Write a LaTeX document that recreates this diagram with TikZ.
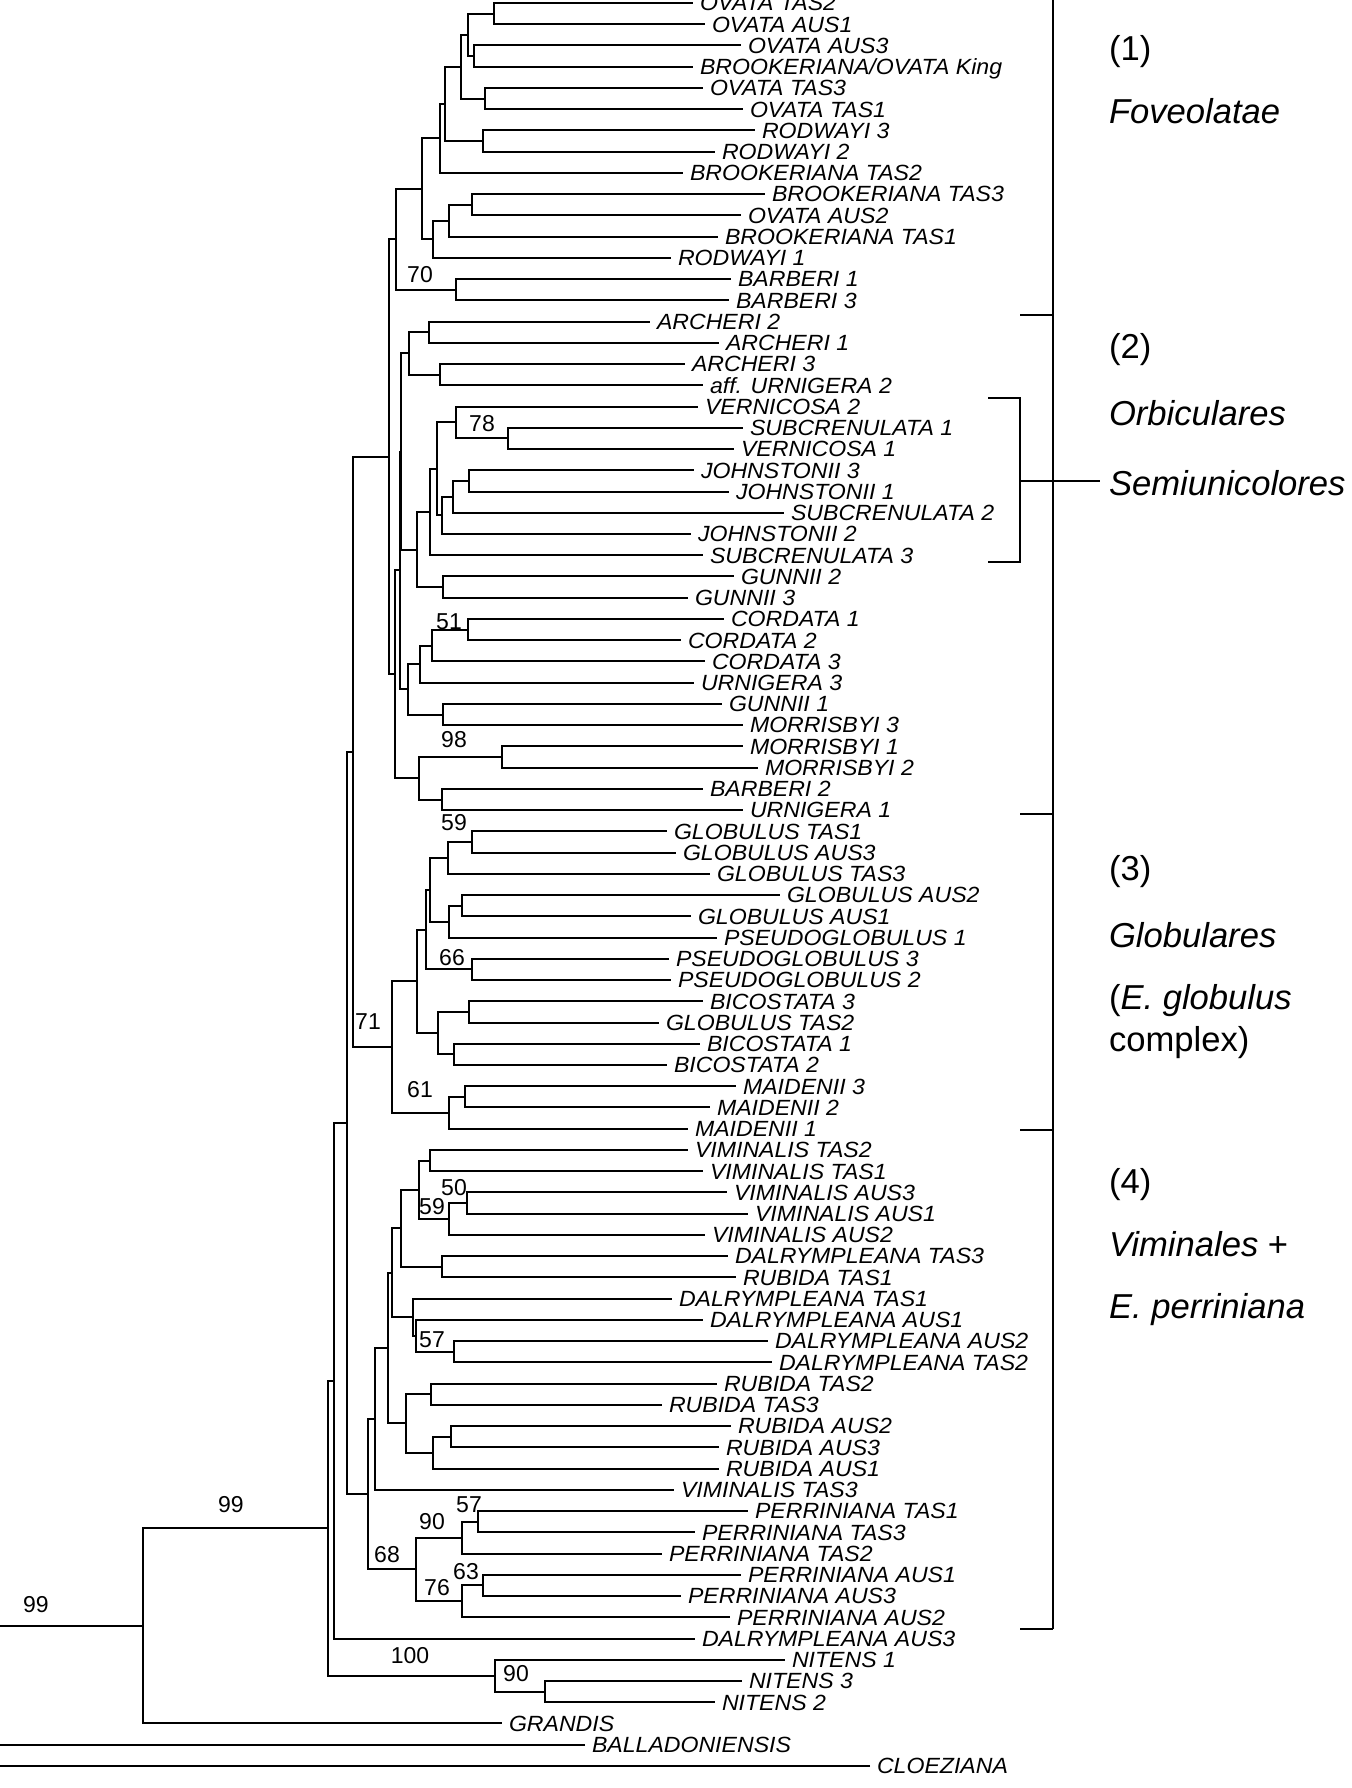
\documentclass[tikz,border=0pt]{standalone}
\usepackage{fontspec}
\setmainfont{Liberation Sans}
\newfontfamily\leaffont[FakeStretch=1.05]{Liberation Sans}
\usetikzlibrary{calc}

\begin{document}
\begin{tikzpicture}[x=0.5pt, y=-0.5pt, line width=1pt,
    leaflab/.style={anchor=west, inner xsep=3pt, inner ysep=0pt, text height=7.8pt, text depth=0pt,
      font=\leaffont\itshape\fontsize{11}{12}\selectfont},
    boot/.style={inner sep=0pt, font=\fontsize{11.5}{13}\selectfont},
    sect/.style={anchor=base west, inner xsep=4pt, inner ysep=0pt, font=\fontsize{17.3}{20}\selectfont}]
    \useasboundingbox (0,0) rectangle (1352,1788);

    % leaves: name / row / end of branch / label
    \foreach \nm/\row/\ex/\lab in {
        ovT2/0/693/OVATA TAS2, ovA1/1/705/OVATA AUS1, ovA3/2/741/OVATA AUS3,
        brOvK/3/693/{BROOKERIANA/OVATA King}, ovT3/4/703/OVATA TAS3, ovT1/5/743/OVATA TAS1,
        rod3/6/755/RODWAYI 3, rod2/7/715/RODWAYI 2, brT2/8/683/BROOKERIANA TAS2,
        brT3/9/765/BROOKERIANA TAS3, ovA2/10/741/OVATA AUS2, brT1/11/718/BROOKERIANA TAS1,
        rod1/12/671/RODWAYI 1, bar1/13/731/BARBERI 1, bar3/14/729/BARBERI 3,
        arc2/15/650/ARCHERI 2, arc1/16/719/ARCHERI 1, arc3/17/685/ARCHERI 3,
        affU2/18/703/aff. URNIGERA 2, ver2/19/698/VERNICOSA 2, sub1/20/743/SUBCRENULATA 1,
        ver1/21/734/VERNICOSA 1, joh3/22/694/JOHNSTONII 3, joh1/23/729/JOHNSTONII 1,
        sub2/24/784/SUBCRENULATA 2, joh2/25/691/JOHNSTONII 2, sub3/26/703/SUBCRENULATA 3,
        gun2/27/734/GUNNII 2, gun3/28/688/GUNNII 3, cor1/29/724/CORDATA 1,
        cor2/30/681/CORDATA 2, cor3/31/705/CORDATA 3, urn3/32/694/URNIGERA 3,
        gun1/33/722/GUNNII 1, mor3/34/743/MORRISBYI 3, mor1/35/743/MORRISBYI 1,
        mor2/36/758/MORRISBYI 2, bar2/37/703/BARBERI 2, urn1/38/743/URNIGERA 1,
        glT1/39/667/GLOBULUS TAS1, glA3/40/676/GLOBULUS AUS3, glT3/41/710/GLOBULUS TAS3,
        glA2/42/780/GLOBULUS AUS2, glA1/43/691/GLOBULUS AUS1, pse1/44/717/PSEUDOGLOBULUS 1,
        pse3/45/669/PSEUDOGLOBULUS 3, pse2/46/671/PSEUDOGLOBULUS 2, bic3/47/703/BICOSTATA 3,
        glT2/48/659/GLOBULUS TAS2, bic1/49/700/BICOSTATA 1, bic2/50/667/BICOSTATA 2,
        mai3/51/736/MAIDENII 3, mai2/52/710/MAIDENII 2, mai1/53/688/MAIDENII 1,
        viT2/54/688/VIMINALIS TAS2, viT1/55/703/VIMINALIS TAS1, viA3/56/727/VIMINALIS AUS3,
        viA1/57/748/VIMINALIS AUS1, viA2/58/705/VIMINALIS AUS2, daT3/59/728/DALRYMPLEANA TAS3,
        ruT1/60/736/RUBIDA TAS1, daT1/61/672/DALRYMPLEANA TAS1, daA1/62/703/DALRYMPLEANA AUS1,
        daA2/63/768/DALRYMPLEANA AUS2, daT2/64/772/DALRYMPLEANA TAS2, ruT2/65/717/RUBIDA TAS2,
        ruT3/66/662/RUBIDA TAS3, ruA2/67/731/RUBIDA AUS2, ruA3/68/719/RUBIDA AUS3,
        ruA1/69/719/RUBIDA AUS1, viT3/70/674/VIMINALIS TAS3, peT1/71/748/PERRINIANA TAS1,
        peT3/72/695/PERRINIANA TAS3, peT2/73/662/PERRINIANA TAS2, peA1/74/741/PERRINIANA AUS1,
        peA3/75/681/PERRINIANA AUS3, peA2/76/730/PERRINIANA AUS2, daA3/77/695/DALRYMPLEANA AUS3,
        nit1/78/785/NITENS 1, nit3/79/742/NITENS 3, nit2/80/715/NITENS 2,
        gra/81/502/GRANDIS, bal/82/585/BALLADONIENSIS, clo/83/870/CLOEZIANA}
        \node[leaflab] (\nm) at (\ex,{3+21.24*\row}) {\lab};

    % internal nodes: name / x / upper child / lower child
    \foreach \nm/\ex/\ca/\cb in {
        n1/494/ovT2/ovA1, n2/474/ovA3/brOvK, n3/468/n1/n2, n4/485/ovT3/ovT1,
        n5/461/n3/n4, n6/483/rod3/rod2, n7/445/n5/n6, n8/440/n7/brT2,
        n9/472/brT3/ovA2, n10/449/n9/brT1, n11/433/n10/rod1, n12/422/n8/n11,
        n13/456/bar1/bar3, n14/396/n12/n13,
        a1/429/arc2/arc1, a2/440/arc3/affU2, a3/409/a1/a2,
        s1/508/sub1/ver1, s2/456/ver2/s1, s3/469/joh3/joh1, s4/453/s3/sub2,
        s5/442/s4/joh2, s6/437/s2/s5, s7/430/s6/sub3, g1/443/gun2/gun3,
        s8/417/s7/g1, a4/401/a3/s8,
        c1/468/cor1/cor2, c2/432/c1/cor3, c3/420/c2/urn3, m1/443/gun1/mor3,
        c4/408/c3/m1, mm/502/mor1/mor2, bu/442/bar2/urn1, mb/419/mm/bu,
        k1/400/a4/c4, k2/395/k1/mb, e1/389/n14/k2,
        gl1/472/glT1/glA3, gl2/448/gl1/glT3, gl3/462/glA2/glA1, gl4/449/gl3/pse1,
        gl5/430/gl2/gl4, ps/472/pse3/pse2, gl6/426/gl5/ps, bi1/469/bic3/glT2,
        bi2/454/bic1/bic2, bi3/438/bi1/bi2, gl7/417/gl6/bi3, ma1/465/mai3/mai2,
        ma2/449/ma1/mai1, gl8/392/gl7/ma2, t1/353/e1/gl8,
        vt/430/viT2/viT1, va1/467/viA3/viA1, va2/449/va1/viA2, v1/419/vt/va2,
        dr/442/daT3/ruT1, v2/401/v1/dr, dd/454/daA2/daT2, d1/416/daA1/dd,
        d2/413/daT1/d1, v3/392/v2/d2, rt/431/ruT2/ruT3, ra1/451/ruA2/ruA3,
        ra2/433/ra1/ruA1, r1/406/rt/ra2, v5/388/v3/r1, v6/375/v5/viT3,
        pt1/478/peT1/peT3, pt2/462/pt1/peT2, pa1/483/peA1/peA3, pa2/462/pa1/peA2,
        pr/416/pt2/pa2, v7/368/v6/pr, s9/347/t1/v7, q1/334/s9/daA3,
        nt1/545/nit3/nit2, nt/495/nit1/nt1, p1/328/q1/nt, r0/143/p1/gra}
    {
        \path ($(\ca)!.5!(\cb)$) coordinate (\nm-m);
        \coordinate (\nm) at (\ex,0 |- \nm-m);
        \draw (\nm) |- (\ca);
        \draw (\nm) |- (\cb);
    }

    % root and outgroups running off the left edge
    \draw (r0) -- (r0 -| 0,0);
    \draw (bal) -- (bal -| 0,0);
    \draw (clo) -- (clo -| 0,0);

    % bootstrap values
    \foreach \nm/\ex/\ey/\lab in {
        b99r/36/1605/99, b99p/231/1505/99, b100/410/1656/100, b90n/516/1674/90,
        b70/420/275/70, b78/482/424/78, b51/449/622/51, b98/454/740/98,
        b59g/454/823/59, b66/452/958/66, b71/368/1022/71, b61/420/1090/61,
        b50/454/1188/50, b59v/432/1207/59, b57d/432/1340/57, b57p/469/1505/57,
        b90p/432/1522/90, b68/387/1555/68, b63/466/1572/63, b76/437/1588/76}
        \node[boot] (\nm) at (\ex,\ey) {\lab};

    % section brackets
    \coordinate (brTop) at (1053,0);
    \coordinate (brBot) at (1053,1629);
    \draw (brTop) -- (brBot);
    \foreach \ty in {315,814,1130,1629}
        \draw (1020,\ty) -- (brTop |- 0,\ty);

    % Semiunicolores bracket
    \coordinate (sbT) at (988,398);
    \coordinate (sbB) at (988,562);
    \coordinate (sbM) at (1020,481);
    \draw (sbT) -| (sbM) |- (sbB);

    % section labels
    \node[sect] (sec1) at (1100,60) {(1)};
    \node[sect] (fov) at (1100,123) {\itshape Foveolatae};
    \node[sect] (sec2) at (1100,358) {(2)};
    \node[sect] (orb) at (1100,425) {\itshape Orbiculares};
    \node[sect] (semi) at (1100,495) {\itshape Semiunicolores};
    \node[sect] (sec3) at (1100,880) {(3)};
    \node[sect] (glob) at (1100,947) {\itshape Globulares};
    \node[sect] (eglob) at (1100,1009) {(\textit{E. globulus}};
    \node[sect] (cplx) at (1100,1051) {complex)};
    \node[sect] (sec4) at (1100,1193) {(4)};
    \node[sect] (vimi) at (1100,1256) {\textit{Viminales} +};
    \node[sect] (eperr) at (1100,1318) {\itshape E. perriniana};

    \draw (sbM) -- (sbM -| semi.west);
\end{tikzpicture}
\end{document}
